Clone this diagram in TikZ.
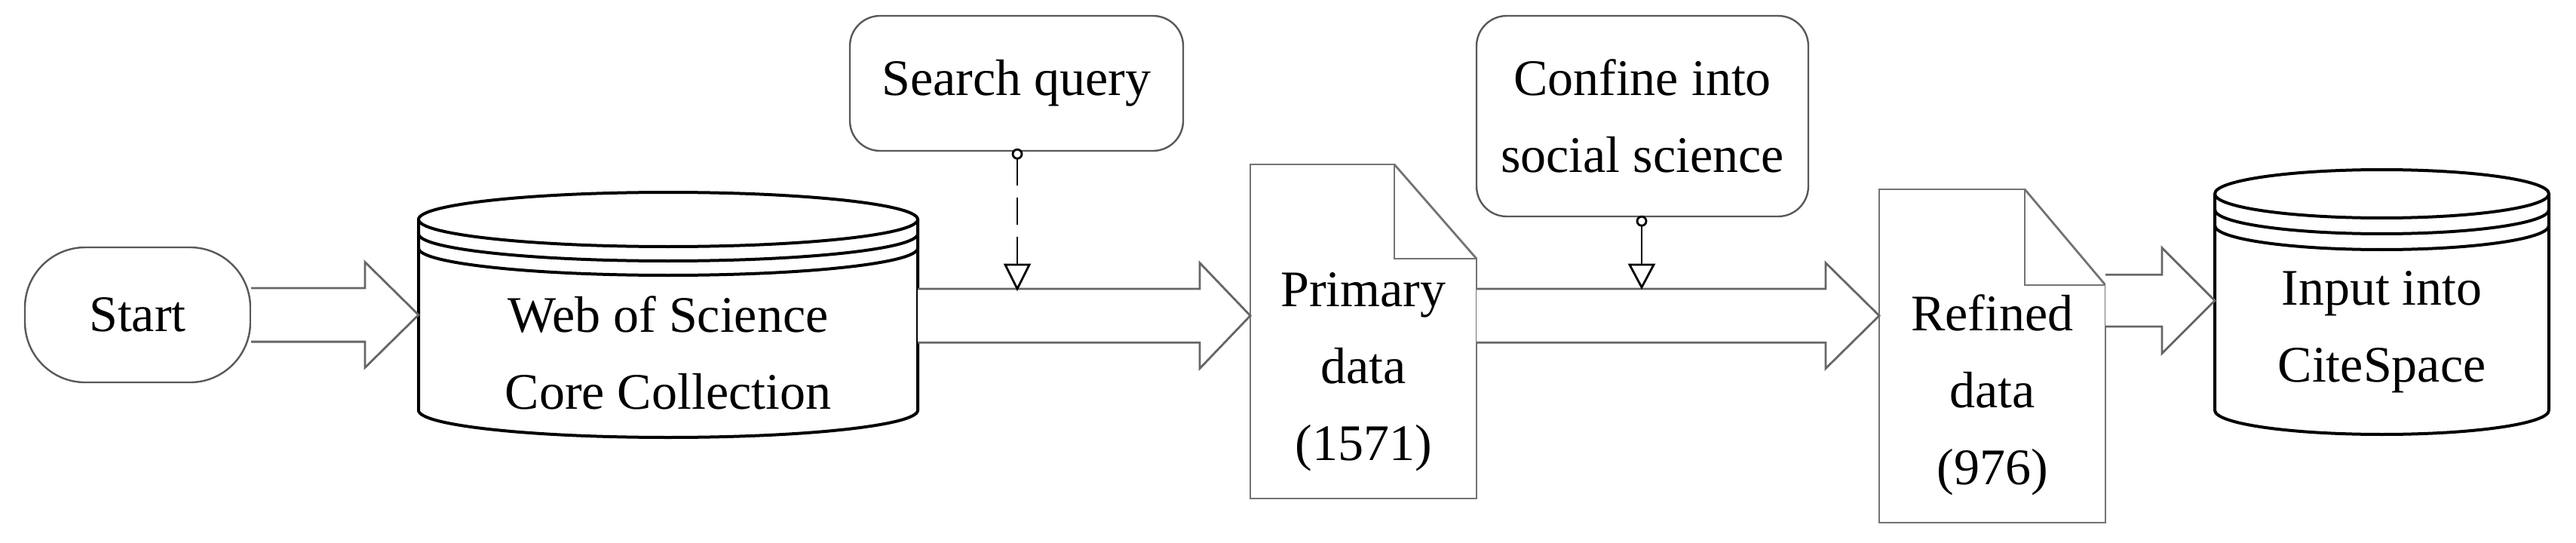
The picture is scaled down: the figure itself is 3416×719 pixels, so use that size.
\documentclass[tikz,border=0pt]{standalone}
\usepackage{fontspec}
\setmainfont{Liberation Serif}
\usetikzlibrary{calc}
\tikzset{
  txt/.style={align=center,font=\fontsize{17}{25.5}\selectfont,inner sep=0pt},
  geo/.style={draw=none,inner sep=0pt,outer sep=0pt,rectangle},
  rbox/.style={draw=black!65,line width=0.6pt,rounded corners=10pt,inner sep=0pt,
    align=center,font=\fontsize{17}{25.5}\selectfont},
  doc/.style={draw=black!55,line width=0.7pt},
  cyl/.style={draw=black,line width=1pt},
  barr/.style={draw=black!60,line width=0.7pt,fill=white},
}
\newcommand\blockarrow[6]{% from, to, y(pt), half body, half head, head length
  \draw[barr] let \p1=(#1), \p2=(#2) in
    (\x1,#3+#4) -- (\x2-#6,#3+#4) -- (\x2-#6,#3+#5) -- (\x2,#3)
    -- (\x2-#6,#3-#5) -- (\x2-#6,#3-#4) -- (\x1,#3-#4);}
\begin{document}
\begin{tikzpicture}[x=0.25pt,y=0.25pt]
\useasboundingbox (0,0) rectangle (3416,719);
% geometry nodes
\node[rbox,rounded corners=20pt,minimum width=74.75pt,minimum height=44.75pt] (start) at (182.5,301.5) {Start};
\node[geo,minimum width=165.5pt,minimum height=81.25pt] (wos) at (886,301.5) {};
\node[geo,minimum width=75pt,minimum height=110.75pt] (primary) at (1808,279.5) {};
\node[geo,minimum width=75pt,minimum height=110.5pt] (refined) at (2642,247) {};
\node[geo,minimum width=110.75pt,minimum height=87.75pt] (cite) at (3158.5,318.5) {};
\node[rbox,minimum width=110.5pt,minimum height=44.75pt] (search) at (1348,608.5) {Search query};
\node[rbox,minimum width=110pt,minimum height=66.5pt] (confine) at (2178,565) {Confine into\\social science};
% WoS cylinder
\draw[cyl,fill=white] (555,428) -- (555,175) arc[start angle=180,end angle=360,x radius=331,y radius=36] -- (1217,428);
\draw[cyl] (886,428) ellipse[x radius=331,y radius=36];
\draw[cyl] (555,409) arc[start angle=180,end angle=360,x radius=331,y radius=36];
\draw[cyl] (555,390) arc[start angle=180,end angle=360,x radius=331,y radius=36];
\node[txt] (wost) at (886,251) {Web of Science\\Core Collection};
% CiteSpace cylinder
\draw[cyl,fill=white] (2937,462) -- (2937,175) arc[start angle=180,end angle=360,x radius=221.5,y radius=32] -- (3380,462);
\draw[cyl] (3158.5,462) ellipse[x radius=221.5,y radius=32];
\draw[cyl] (2937,441) arc[start angle=180,end angle=360,x radius=221.5,y radius=32];
\draw[cyl] (2937,420) arc[start angle=180,end angle=360,x radius=221.5,y radius=32];
\node[txt] (citet) at (3158.5,279) {Input into\\CiteSpace};
% documents
\draw[doc] (primary.south west) -- (primary.north west) -- (1849,501) -- (1849,376) -- (1958,376) -- (primary.south east) -- cycle;
\draw[doc] (1849,501) -- (1958,376);
\node[txt] (primt) at (1808,226) {Primary\\data\\(1571)};
\draw[doc] (refined.south west) -- (refined.north west) -- (2685,468) -- (2685,341) -- (2792,341) -- (refined.south east) -- cycle;
\draw[doc] (2685,468) -- (2792,341);
\node[txt] (reft) at (2642,195) {Refined\\data\\(976)};
% block arrows
\blockarrow{start.east}{wos.west}{75.375pt}{8.9pt}{17.5pt}{17.75pt}
\blockarrow{wos.east}{primary.west}{75.1pt}{8.9pt}{17.5pt}{16.75pt}
\blockarrow{primary.east}{refined.west}{75.1pt}{8.9pt}{17.5pt}{17.75pt}
\blockarrow{refined.east}{cite.west}{80.1pt}{8.6pt}{17.5pt}{17.5pt}
% control connectors
\coordinate (t1) at (1349,336);
\coordinate (t2) at (2177,338);
\draw[line width=0.7pt,dash pattern=on 9pt off 4pt] ($(search.south)+(1,-9)$) -- ($(t1)+(0,32)$);
\draw[line width=0.7pt,fill=white] ($(search.south)+(1,-3)$) circle[radius=6];
\draw[line width=0.7pt] ($(t1)+(-16,32)$) -- ($(t1)+(16,32)$) -- (t1) -- cycle;
\draw[line width=0.7pt] ($(confine.south)+(-1,-11)$) -- ($(t2)+(0,30)$);
\draw[line width=0.7pt,fill=white] ($(confine.south)+(-1,-5)$) circle[radius=6];
\draw[line width=0.7pt] ($(t2)+(-16,30)$) -- ($(t2)+(16,30)$) -- (t2) -- cycle;
\end{tikzpicture}
\end{document}
